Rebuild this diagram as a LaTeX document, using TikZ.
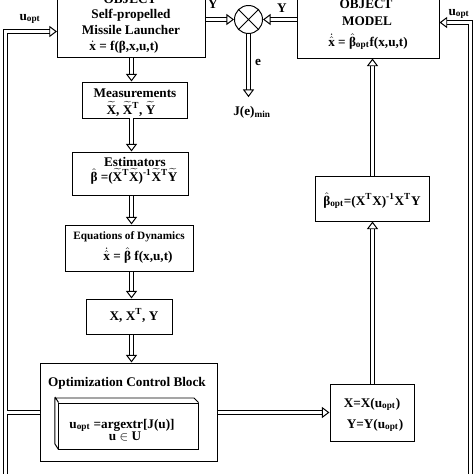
\documentclass[tikz,border=0pt]{standalone}
\usepackage{fontspec}
\setmainfont{Liberation Serif}
\usepackage{amsmath}
\usetikzlibrary{arrows.meta}

\begin{document}
\begin{tikzpicture}[x=0.025cm, y=-0.025cm,
    >={Triangle[open,length=5.5pt,width=8pt,line width=0.7pt]},
    every node/.style={font=\fontsize{9.4}{11}\selectfont\bfseries},
    block/.style={rectangle, draw, line width=0.7pt, inner sep=0pt},
    txt/.style={anchor=base, inner sep=0pt},
    dbl/.style={->, double, double distance=2.1pt, line width=0.75pt}]

    \useasboundingbox (0,0) rectangle (474,474);
    \clip (0,0) rectangle (474,474);

    % object and model
    \node[block,
          minimum width = 3.7cm,
          minimum height = 1.725cm
          ] (obj) at (131.5,22.5) {};
    \node[txt] (objt1) at (130,3) {OBJECT};
    \node[txt] (objt2) at (131,18) {Self-propelled};
    \node[txt] (objt3) at (131,34) {Missile Launcher};
    \node[txt] (objt4) at (124,50) {$\dot{\text{x}}$ = f(β,x,u,t)};

    \node[block,
          minimum width = 3.525cm,
          minimum height = 1.75cm
          ] (model) at (368.5,23) {};
    \node[txt] (modt1) at (366,8) {OBJECT};
    \node[txt] (modt2) at (367,25) {MODEL};
    \node[txt] (modt3) at (368,46) {$\dot{\hat{\text{x}}}$ = $\hat{\text{β}}$\textsubscript{opt}f(x,u,t)};

    \node[circle,
          draw,
          line width=0.7pt,
          minimum size = 0.7cm
          ] (sum) at (248.5,19.5) {};
    \draw[line width=0.7pt] (sum.north west) -- (sum.south east)
                            (sum.north east) -- (sum.south west);

    \node[txt] (jmin) at (252,115) {J(e)\textsubscript{min}};
    \node[txt] (ylft) at (213,8) {Y};
    \node[txt] (yrgt) at (282,12) {Y};
    \node[txt] (err) at (258,65) {e};

    % left chain
    \node[block,
          minimum width = 2.6cm,
          minimum height = 0.9cm
          ] (meas) at (135,100) {};
    \node[txt] (meast1) at (135,97) {Measurements};
    \node[txt] (meast2) at (131,114) {$\widetilde{\text{X}}$, $\widetilde{\text{X}}$\textsuperscript{T}, $\widetilde{\text{Y}}$};

    \node[block,
          minimum width = 2.875cm,
          minimum height = 1.075cm
          ] (est) at (130.5,173.5) {};
    \node[txt] (estt1) at (135,166) {Estimators};
    \node[txt] (estt2) at (134,181) {$\hat{\text{β}}$ =($\widetilde{\text{X}}$\textsuperscript{T}$\widetilde{\text{X}}$)\textsuperscript{-1}$\widetilde{\text{X}}$\textsuperscript{T}$\widetilde{\text{Y}}$};

    \node[block,
          minimum width = 3.175cm,
          minimum height = 1.15cm
          ] (dyn) at (129.5,248) {};
    \node[txt, font=\fontsize{8}{9}\selectfont\bfseries] (dynt1) at (129,239) {Equations of Dynamics};
    \node[txt] (dynt2) at (138,260) {$\dot{\hat{\text{x}}}$ = $\hat{\text{β}}$ f(x,u,t)};

    \node[block,
          minimum width = 2.125cm,
          minimum height = 0.875cm
          ] (xxty) at (129.5,316.5) {};
    \node[txt] (xxtyt) at (134,320) {X, X\textsuperscript{T}, Y};

    \node[block,
          minimum width = 4.4cm,
          minimum height = 2.45cm
          ] (opt) at (129,412) {};
    \node[txt] (optt) at (127,386) {Optimization Control Block};

    \node[block,
          minimum width = 3.475cm,
          minimum height = 1.15cm
          ] (cube) at (128.5,426) {};
    \draw[line width=0.7pt] (cube.south west) -- ++(-3.5,-5.5) -- ++(0,-46) -- ++(139,0) -- (cube.north east)
                            (cube.north west) -- ++(-3.5,-5.5);
    \node[txt] (cubet1) at (122,428) {u\textsubscript{opt} =argextr[J(u)]};
    \node[txt] (cubet2) at (125,440) {u $\in$ U};

    % right column
    \node[block,
          minimum width = 2.1cm,
          minimum height = 1.425cm
          ] (xy) at (372,412.5) {};
    \node[txt] (xyt1) at (372,407) {X=X(u\textsubscript{opt})};
    \node[txt] (xyt2) at (375,428) {Y=Y(u\textsubscript{opt})};

    \node[block,
          minimum width = 2.825cm,
          minimum height = 1.125cm
          ] (bopt) at (372.5,198.5) {};
    \node[txt] (boptt) at (372,205) {$\hat{\text{β}}$\textsubscript{opt}=(X\textsuperscript{T}X)\textsuperscript{-1}X\textsuperscript{T}Y};

    \node[txt] (uoptl) at (30,20) {u\textsubscript{opt}};
    \node[txt] (uoptr) at (459,15) {u\textsubscript{opt}};

    \coordinate (fbl) at (5.5,480);
    \coordinate (fbr) at (470.5,480);

    % connections
    \draw[dbl] (obj.south) -- (obj.south |- meas.north);
    \draw[dbl] (meas.south -| obj.south) -- (obj.south |- est.north);
    \draw[dbl] (est.south -| obj.south) -- (obj.south |- dyn.north);
    \draw[dbl] (dyn.south -| obj.south) -- (obj.south |- xxty.north);
    \draw[dbl] (xxty.south -| obj.south) -- (obj.south |- opt.north);

    \draw[dbl] (obj.east |- sum.west) -- (sum.west);
    \draw[dbl] (model.west |- sum.east) -- (sum.east);
    \draw[dbl, shorten >=6pt] (sum.south) -- (sum.south |- jmin.north);

    \draw[dbl] (xy.north -| bopt.south) -- (bopt.south);
    \draw[dbl] (bopt.north) -- (bopt.north |- model.south);
    \draw[dbl] (opt.east |- xy.west) -- (xy.west);

    \draw[dbl] (opt.west |- xy.west) -- (fbl |- xy.west)
               (fbl) |- (obj.west |- 0,31.5);
    \draw[dbl] (fbr) |- (model.east |- 0,22.5);

\end{tikzpicture}
\end{document}
